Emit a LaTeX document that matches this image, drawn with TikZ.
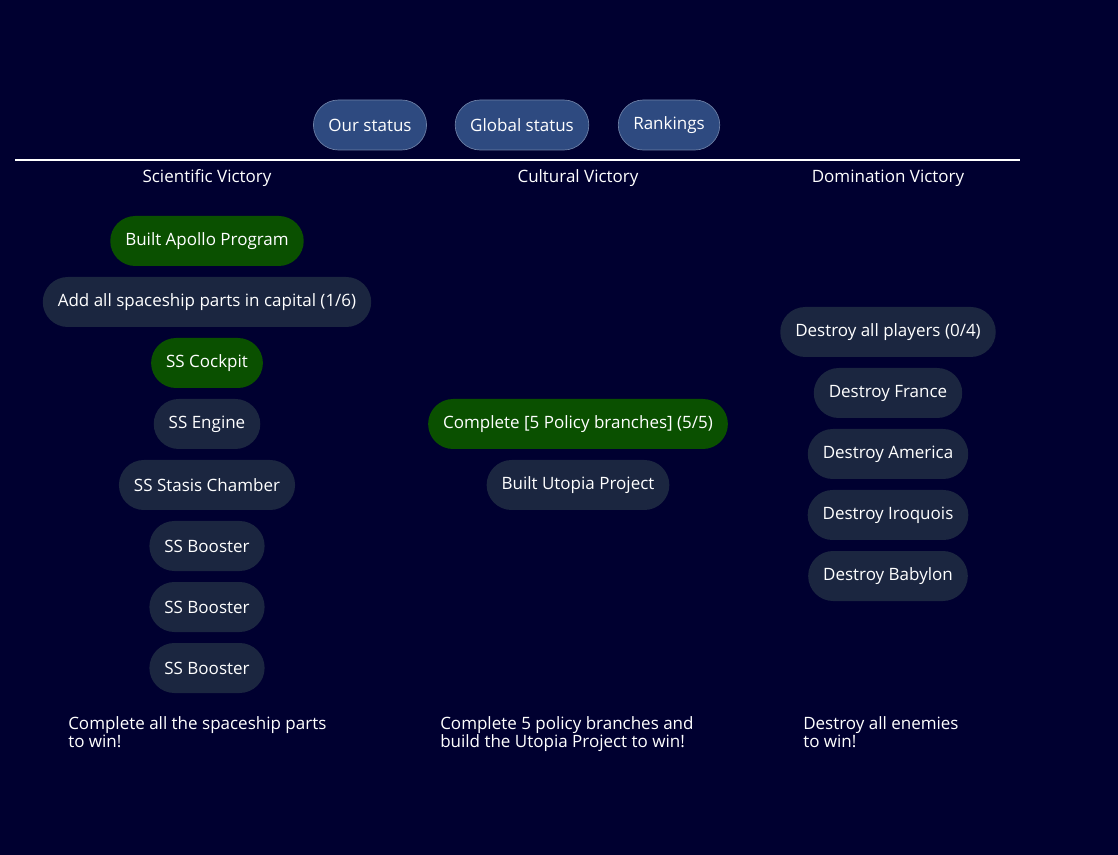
\documentclass[tikz,border=0pt]{standalone}
\usepackage{fontspec}
\setmainfont{Open Sans}
\definecolor{bg}{HTML}{000030}
\definecolor{topbtn}{HTML}{2E4A80}
\definecolor{pill}{HTML}{1B2640}
\definecolor{done}{HTML}{0A5000}
\tikzset{
  base/.style={rounded corners=18.75pt, minimum height=37.5pt, inner xsep=11.25pt, text=white, font=\fontsize{12.75}{15}\selectfont},
  topb/.style={base, fill=topbtn, draw=topbtn!70!white, line width=0.5pt},
  todo/.style={base, fill=pill},
  ok/.style={base, fill=done},
  hdr/.style={text=white, font=\fontsize{12.75}{15}\selectfont},
  foot/.style={text=white, anchor=north west, align=left, inner sep=0pt, font=\fontsize{12.75}{13.5}\selectfont}
}
\begin{document}
\begin{tikzpicture}[x=0.75pt,y=-0.75pt]
\fill[bg] (0,0) rectangle (1118,855);
\useasboundingbox (0,0) rectangle (1118,855);
\node[topb] (our) at (370,125) {Our status};
\node[topb] (glob) at (522,125) {Global status};
\node[topb] (rank) at (669,125) {Rankings};
\coordinate (l1) at (15,160); \coordinate (l2) at (1020,160);
\draw[white, line width=1.5pt] (l1) -- (l2);
\node[hdr] (h1) at (207,178) {Scientific Victory};
\node[hdr] (h2) at (578,178) {Cultural Victory};
\node[hdr] (h3) at (888,178) {Domination Victory};
\node[ok] (s1) at (207,241) {Built Apollo Program};
\node[todo] (s2) at (207,302) {Add all spaceship parts in capital (1/6)};
\node[ok] (s3) at (207,363) {SS Cockpit};
\node[todo] (s4) at (207,424) {SS Engine};
\node[todo] (s5) at (207,485) {SS Stasis Chamber};
\node[todo] (s6) at (207,546) {SS Booster};
\node[todo] (s7) at (207,607) {SS Booster};
\node[todo] (s8) at (207,668) {SS Booster};
\node[ok] (c1) at (578,424) {Complete [5 Policy branches] (5/5)};
\node[todo] (c2) at (578,485) {Built Utopia Project};
\node[todo] (d1) at (888,332) {Destroy all players (0/4)};
\node[todo] (d2) at (888,393) {Destroy France};
\node[todo] (d3) at (888,454) {Destroy America};
\node[todo] (d4) at (888,515) {Destroy Iroquois};
\node[todo] (d5) at (888,576) {Destroy Babylon};
\node[foot] (f1) at (68,716) {Complete all the spaceship parts\\to win!};
\node[foot] (f2) at (440,716) {Complete 5 policy branches and\\build the Utopia Project to win!};
\node[foot] (f3) at (803,716) {Destroy all enemies\\to win!};
\end{tikzpicture}
\end{document}
